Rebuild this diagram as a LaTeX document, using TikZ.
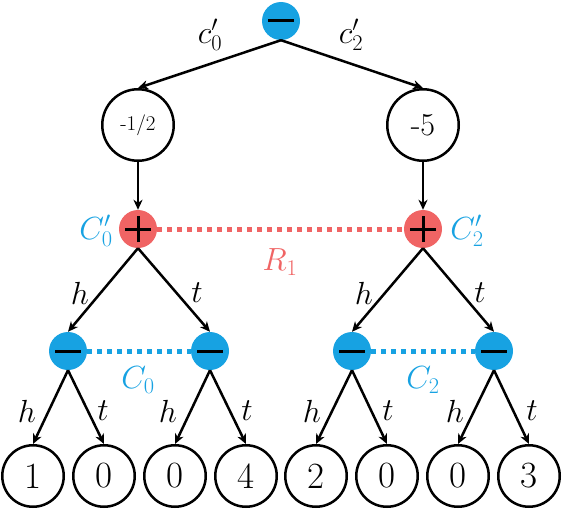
\RequirePackage{fix-cm}
\documentclass[tikz,border=0pt]{standalone}
\usetikzlibrary{arrows.meta}
\definecolor{myblue}{RGB}{23,162,226}
\definecolor{myred}{RGB}{240,100,100}
\begin{document}
\begin{tikzpicture}[x=1pt,y=-1pt,
 edge/.style={line width=2.5pt, -{Stealth[length=10pt,width=9pt,inset=3pt]}},
 leaf/.style={circle, draw, line width=2.5pt, minimum size=61.5pt, inner sep=0pt, font=\fontsize{37}{40}\selectfont},
 val/.style={circle, draw, line width=2.5pt, minimum size=71.5pt, inner sep=0pt},
 minusnode/.style={circle, fill=myblue, minimum size=38pt, inner sep=0pt,
   path picture={\draw[line width=3pt] ([xshift=-13pt]path picture bounding box.center) -- ([xshift=13pt]path picture bounding box.center);}},
 plusnode/.style={circle, fill=myred, minimum size=38pt, inner sep=0pt,
   path picture={\draw[line width=3pt] ([xshift=-13pt]path picture bounding box.center) -- ([xshift=13pt]path picture bounding box.center);
                 \draw[line width=3pt] ([yshift=-13pt]path picture bounding box.center) -- ([yshift=13pt]path picture bounding box.center);}},
 lbl/.style={font=\fontsize{32}{36}\selectfont, inner sep=0pt},
 reddot/.style={myred, line width=5pt, dash pattern=on 5pt off 5pt},
 bluedot/.style={myblue, line width=5pt, dash pattern=on 5pt off 5pt},
 ]
\useasboundingbox (0,0) rectangle (564,511);
% nodes
\node[minusnode] (T) at (281,21) {};
\node[val, font=\fontsize{21}{24}\selectfont] (A) at (138,125) {-1/2};
\node[val, font=\fontsize{32}{36}\selectfont] (B) at (423,125) {-5};
\node[plusnode] (P0) at (138,229) {};
\node[plusnode] (P2) at (423,229) {};
\node[minusnode] (M00) at (68,351) {};
\node[minusnode] (M01) at (210,351) {};
\node[minusnode] (M20) at (352,351) {};
\node[minusnode] (M21) at (494,351) {};
\node[leaf] (L1) at (33,476) {1};
\node[leaf] (L2) at (104,476) {0};
\node[leaf] (L3) at (175,476) {0};
\node[leaf] (L4) at (246,476) {4};
\node[leaf] (L5) at (316,476) {2};
\node[leaf] (L6) at (387,476) {0};
\node[leaf] (L7) at (458,476) {0};
\node[leaf] (L8) at (529,476) {3};
% dotted links
\draw[reddot] (P0.east) -- (P2.west);
\draw[bluedot] (M00.east) -- (M01.west);
\draw[bluedot] (M20.east) -- (M21.west);
% edges
\draw[edge] (T.south) -- (A.north);
\draw[edge] (T.south) -- (B.north);
\draw[edge] (A.south) -- (P0.north);
\draw[edge] (B.south) -- (P2.north);
\draw[edge] (P0.south) -- (M00.north);
\draw[edge] (P0.south) -- (M01.north);
\draw[edge] (P2.south) -- (M20.north);
\draw[edge] (P2.south) -- (M21.north);
\draw[edge] (M00.south) -- (L1.north);
\draw[edge] (M00.south) -- (L2.north);
\draw[edge] (M01.south) -- (L3.north);
\draw[edge] (M01.south) -- (L4.north);
\draw[edge] (M20.south) -- (L5.north);
\draw[edge] (M20.south) -- (L6.north);
\draw[edge] (M21.south) -- (L7.north);
\draw[edge] (M21.south) -- (L8.north);
% labels
\node[lbl] (lc0) at (210,35) {$c'_0$};
\node[lbl] (lc2) at (351,35) {$c'_2$};
\node[lbl, text=myblue] (lC0p) at (96,231) {$C'_0$};
\node[lbl, text=myblue] (lC2p) at (467,231) {$C'_2$};
\node[lbl, text=myred] (lR1) at (280,262) {$R_1$};
\node[lbl, text=myblue] (lC0) at (138,380) {$C_0$};
\node[lbl, text=myblue] (lC2) at (423,380) {$C_2$};
\node[lbl] (h1) at (80,293) {$h$};
\node[lbl] (t1) at (197,293) {$t$};
\node[lbl] (h2) at (364,293) {$h$};
\node[lbl] (t2) at (480,293) {$t$};
\node[lbl] (h3) at (27,411) {$h$};
\node[lbl] (t3) at (103,411) {$t$};
\node[lbl] (h4) at (168,411) {$h$};
\node[lbl] (t4) at (247,411) {$t$};
\node[lbl] (h5) at (312,411) {$h$};
\node[lbl] (t5) at (388,411) {$t$};
\node[lbl] (h6) at (455,411) {$h$};
\node[lbl] (t6) at (532,411) {$t$};
\end{tikzpicture}
\end{document}
